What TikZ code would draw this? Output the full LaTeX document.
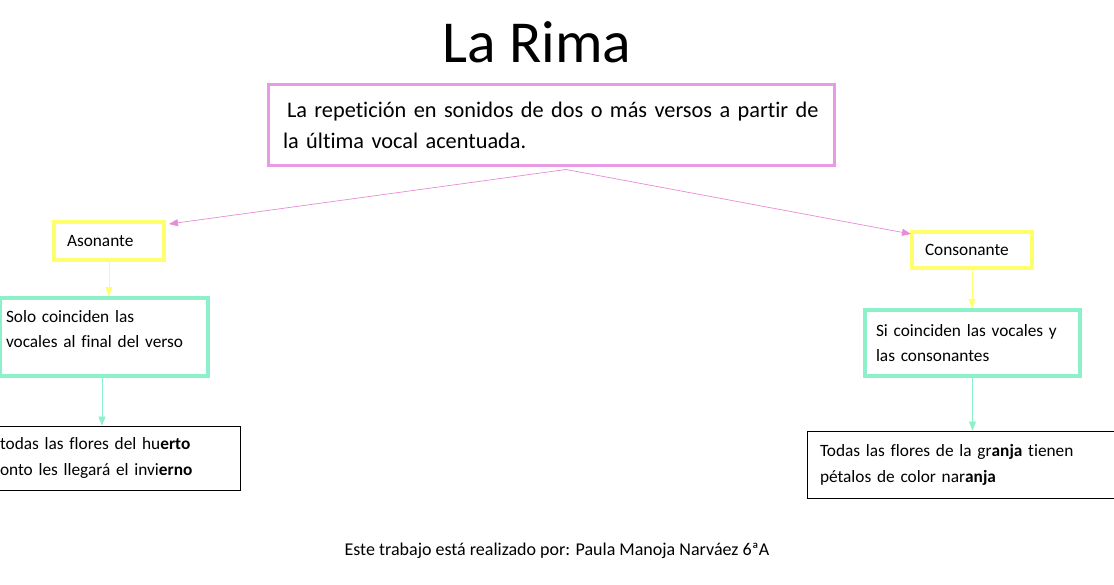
\documentclass[tikz,border=0pt]{standalone}
\usepackage{fontspec}
\setmainfont{Carlito}[Ligatures=NoCommon]
\usetikzlibrary{arrows.meta}
\definecolor{rosa}{RGB}{232,155,228}
\definecolor{rosaflecha}{RGB}{232,140,215}
\definecolor{amarillo}{RGB}{255,255,110}
\definecolor{menta}{RGB}{140,240,200}
\newcommand{\tam}[2]{\fontsize{#1}{#2}\selectfont}

\begin{document}
\begin{tikzpicture}[x=1pt,y=-1pt,
   rosabox/.style={draw=rosa,line width=3pt,inner xsep=15pt,inner ysep=0pt,
     align=left,text width=536pt,minimum height=81pt,font=\tam{22.3}{31}},
   amabox/.style={draw=amarillo,line width=4pt,inner xsep=13pt,inner ysep=0pt,
     align=left,font=\tam{17.3}{24}},
   mentabox/.style={draw=menta,line width=3.5pt,inner ysep=0pt,
     align=left,font=\tam{17.3}{25}},
   negrobox/.style={draw=black,line width=0.8pt,inner ysep=0pt,
     align=left,font=\tam{17.3}{26}},
   flecha/.style={line width=0.7pt,-{Triangle[length=9pt,width=7pt]}}]
   \useasboundingbox[fill=white] (0,0) rectangle (1114,585);

   \node (titulo) at (537,42) {\tam{59.5}{72}La Rima};
   \node[rosabox] (rima) at (551,125.5)
     {\hspace{4pt}La repetición en sonidos de dos o más versos a partir de\\
      la última vocal acentuada.};

   \node[amabox,text width=84pt,minimum height=38pt] (aso) at (109,241) {Asonante};
   \node[amabox,text width=94pt,minimum height=36pt] (con) at (972,250) {Consonante};

   \node[mentabox,inner xsep=6pt,text width=196pt,minimum height=78pt] (solo) at (104,337)
     {Solo coinciden las\\vocales al final del verso\\[-9pt]\mbox{}};
   \node[mentabox,inner xsep=11pt,text width=193pt,minimum height=66pt] (si) at (972.5,343)
     {Si coinciden las vocales y\\las consonantes};

   \node[negrobox,inner xsep=10pt,text width=230pt,minimum height=64pt] (ej1) at (115,458)
     {todas las flores del hu\textbf{erto}\\onto les llegará el invi\textbf{erno}};
   \node[negrobox,inner xsep=13pt,text width=285pt,minimum height=67pt] (ej2) at (962.5,464.5)
     {Todas las flores de la gr\textbf{anja} tienen\\pétalos de color nar\textbf{anja}};

   \node (autor) at (557,551) {\tam{18}{22}Este trabajo está realizado por: Paula Manoja Narváez 6ªA};

   \draw[flecha,rosaflecha] ([xshift=15pt,yshift=-2pt]rima.south) -- ([xshift=3pt,yshift=-4pt]aso.north east);
   \draw[flecha,rosaflecha] ([xshift=15pt,yshift=-2pt]rima.south) -- ([xshift=1pt,yshift=-4pt]con.north west);
   \draw[flecha,amarillo] (aso.south) -- (aso.south |- solo.north);
   \draw[flecha,amarillo] (con.south) -- (con.south |- si.north);
   \draw[flecha,menta] ([xshift=-2pt]solo.south) -- ([xshift=-2pt]solo.south |- ej1.north);
   \draw[flecha,menta] (si.south) -- (si.south |- ej2.north);
\end{tikzpicture}
\end{document}
